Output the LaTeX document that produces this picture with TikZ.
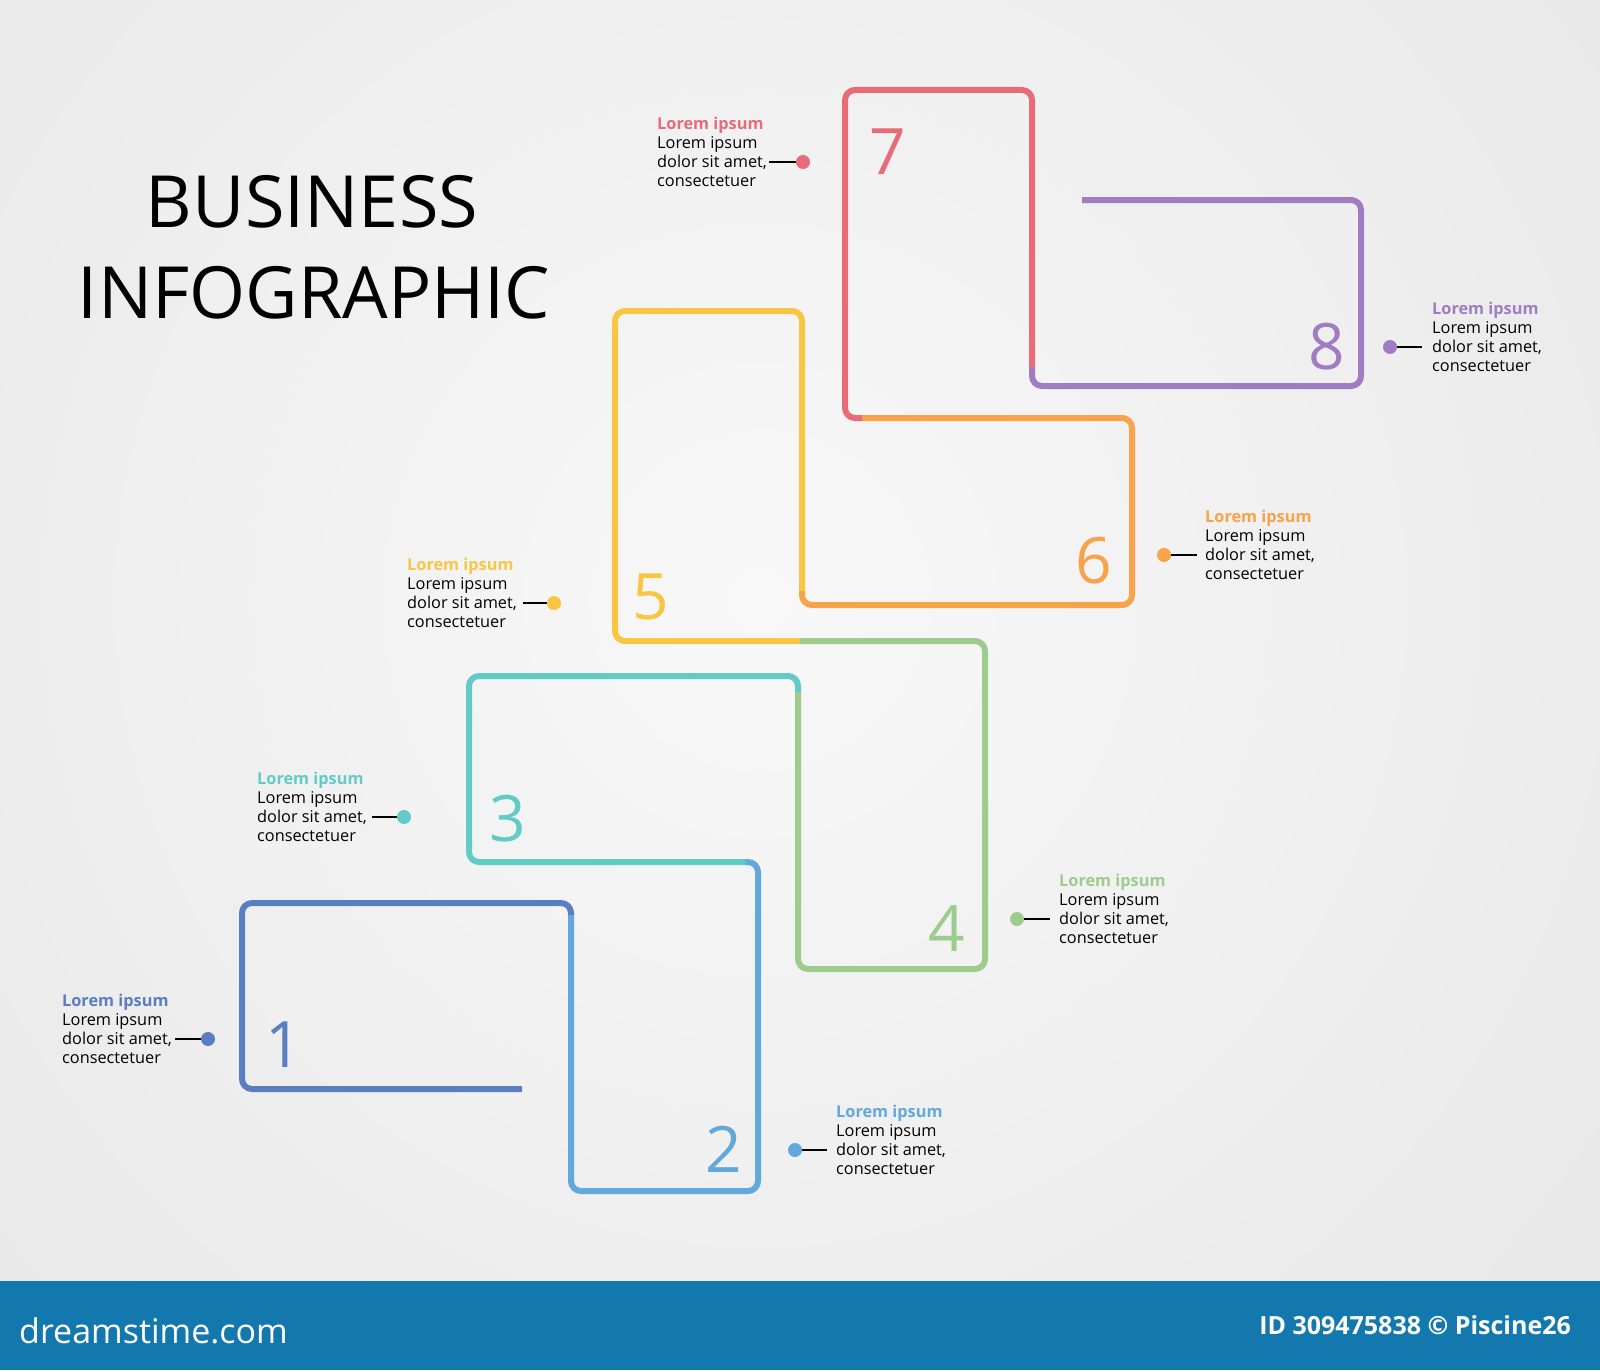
\documentclass[tikz,border=0pt]{standalone}
\usepackage{fontspec}
\setmainfont{Open Sans}
\definecolor{cA}{HTML}{5B7EC2}
\definecolor{cB}{HTML}{62A8DB}
\definecolor{cC}{HTML}{62CBC6}
\definecolor{cD}{HTML}{9ECB8E}
\definecolor{cE}{HTML}{F8C643}
\definecolor{cF}{HTML}{F8A24A}
\definecolor{cG}{HTML}{E86B7A}
\definecolor{cH}{HTML}{A07CC2}
\definecolor{barblue}{HTML}{1278AE}
\definecolor{bgin}{HTML}{F8F8F8}
\definecolor{bgout}{HTML}{E2E2E2}
\begin{document}
\begin{tikzpicture}[x=1pt,y=-1pt,
  seg/.style={line width=6pt, rounded corners=10pt, line cap=butt, line join=round},
  num/.style={inner sep=0pt, font=\fontsize{64}{70}\selectfont},
  lbltext/.style={anchor=base west, inner sep=0pt, font=\fontsize{16.3}{19}\selectfont},
  dot/.style={circle, inner sep=0pt, minimum size=14pt},
  tick/.style={line width=1.2pt, black},
  bigtitle/.style={anchor=base, inner sep=0pt, font=\fontsize{72}{91}\selectfont}]
\useasboundingbox (0,0) rectangle (1600,1370);
% background
\fill[bgout] (0,0) rectangle (1600,1370);
\begin{scope}
  \clip (0,0) rectangle (1600,1281);
  \shade[inner color=bgin, outer color=bgout] (760,600) circle (1500);
\end{scope}
% bottom bar
\fill[barblue] (0,1281) rectangle (1600,1370);
\node[anchor=base west, inner sep=0pt, text=white, font=\fontsize{34}{36}\selectfont] (brand) at (19,1343) {dreamstime.com};
\node[anchor=base east, inner sep=0pt, text=white, font=\bfseries\fontsize{25}{28}\selectfont] (idtext) at (1571,1334) {ID 309475838 © Piscine26};
% title
\node[bigtitle] (title1) at (312,227) {BUSINESS};
\node[bigtitle] (title2) at (314,318) {INFOGRAPHIC};
% path segments
\draw[seg, cA] (522,1089) -- (242,1089) -- (242,903) -- (571,903) -- (571,915);
\draw[seg, cB] (571,915) -- (571,1191) -- (758,1191) -- (758,862) -- (745,862);
\draw[seg, cC] (745,862) -- (469,862) -- (469,676) -- (798,676) -- (798,692);
\draw[seg, cD] (798,692) -- (798,969) -- (985,969) -- (985,641) -- (800,641);
\draw[seg, cE] (800,641) -- (615,641) -- (615,311) -- (802,311) -- (802,591);
\draw[seg, cF] (802,591) -- (802,605) -- (1132,605) -- (1132,418) -- (862,418);
\draw[seg, cG] (862,418) -- (845,418) -- (845,90) -- (1032,90) -- (1032,367);
\draw[seg, cH] (1032,367) -- (1032,386) -- (1361,386) -- (1361,200) -- (1082,200);
% numbers
\node[num, text=cA] (n1) at (284,1045) {1};
\node[num, text=cB] (n2) at (724,1149) {2};
\node[num, text=cC] (n3) at (508,819) {3};
\node[num, text=cD] (n4) at (947,929) {4};
\node[num, text=cE] (n5) at (651,597) {5};
\node[num, text=cF] (n6) at (1094,561) {6};
\node[num, text=cG] (n7) at (888,152) {7};
\node[num, text=cH] (n8) at (1327,347) {8};
% labels
\newcommand\lbltab[1]{\begin{tabular}[t]{@{}l@{}}\textbf{\color{#1}Lorem ipsum}\\Lorem ipsum\\dolor sit amet,\\consectetuer\end{tabular}}
% 1
\node[lbltext] (t1) at (62,1006) {\lbltab{cA}};
\node[dot, fill=cA] (d1) at (208,1039) {};
\coordinate (e1) at (175,1039);
\draw[tick] (e1) -- (d1);
% 2
\node[lbltext] (t2) at (836,1117) {\lbltab{cB}};
\node[dot, fill=cB] (d2) at (795,1150) {};
\coordinate (e2) at (827,1150);
\draw[tick] (d2) -- (e2);
% 3
\node[lbltext] (t3) at (257,784) {\lbltab{cC}};
\node[dot, fill=cC] (d3) at (404,817) {};
\coordinate (e3) at (372,817);
\draw[tick] (e3) -- (d3);
% 4
\node[lbltext] (t4) at (1059,886) {\lbltab{cD}};
\node[dot, fill=cD] (d4) at (1017,919) {};
\coordinate (e4) at (1050,919);
\draw[tick] (d4) -- (e4);
% 5
\node[lbltext] (t5) at (407,570) {\lbltab{cE}};
\node[dot, fill=cE] (d5) at (554,603) {};
\coordinate (e5) at (523,603);
\draw[tick] (e5) -- (d5);
% 6
\node[lbltext] (t6) at (1205,522) {\lbltab{cF}};
\node[dot, fill=cF] (d6) at (1164,555) {};
\coordinate (e6) at (1197,555);
\draw[tick] (d6) -- (e6);
% 7
\node[lbltext] (t7) at (657,129) {\lbltab{cG}};
\node[dot, fill=cG] (d7) at (803,162) {};
\coordinate (e7) at (769,162);
\draw[tick] (e7) -- (d7);
% 8
\node[lbltext] (t8) at (1432,314) {\lbltab{cH}};
\node[dot, fill=cH] (d8) at (1390,347) {};
\coordinate (e8) at (1422,347);
\draw[tick] (d8) -- (e8);
\end{tikzpicture}
\end{document}
